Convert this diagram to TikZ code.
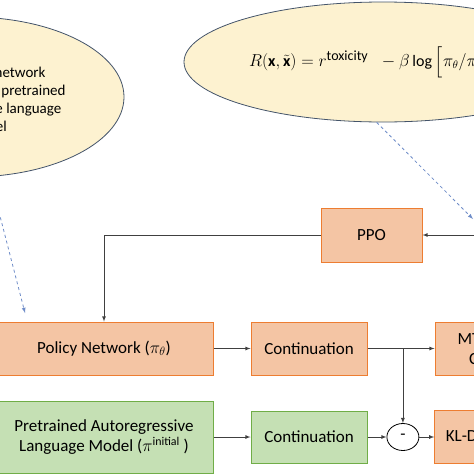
\documentclass[tikz,border=0pt]{standalone}
\usepackage{amsmath}
\usepackage{fontspec}
\setmainfont{Carlito}
\usepackage{tikz}
\usetikzlibrary{shapes, arrows, positioning, fit}
\definecolor{boxfill}{RGB}{244,197,164}
\definecolor{boxline}{RGB}{237,125,49}
\definecolor{lmfill}{RGB}{197,224,180}
\definecolor{lmline}{RGB}{112,173,71}
\definecolor{bubblefill}{RGB}{253,242,208}
\definecolor{bubbleline}{RGB}{68,84,106}
\definecolor{flowline}{RGB}{64,64,64}
\definecolor{hintline}{RGB}{110,140,200}
\newcommand{\supword}[1]{\text{\fontsize{14}{14}\selectfont #1}}

\begin{document}
\begin{tikzpicture}[x=1pt, y=-1pt,
    box/.style={draw=boxline, fill=boxfill, rectangle, minimum height=53pt, line width=1pt, font=\fontsize{17}{20}\selectfont},
    lmbox/.style={box, draw=lmline, fill=lmfill},
    bubble/.style={draw=bubbleline, fill=bubblefill, ellipse, line width=0.8pt},
    arrow/.style={->, >=latex, line width=0.8pt, flowline},
    hint/.style={->, >=latex, dashed, line width=0.8pt, hintline}
]
\useasboundingbox (0,0) rectangle (474,474);
\clip (0,0) rectangle (474,474);
\node[bubble, minimum width=308pt, minimum height=160pt] (netnote) at (-30,97) {};
\node[align=center, font=\fontsize{15}{18}\selectfont] (nettext) at (-12.5,99) {The policy network\\initialized with pretrained\\autoregressive language\\model};
\node[bubble, minimum width=398pt, minimum height=120pt, font=\fontsize{16}{20}\selectfont] (rewardnote) at (383,62) {$R(\mathbf{x},\tilde{\mathbf{x}}) = r^{\supword{toxicity}}\;\;-\beta\log\left[\pi_\theta/\pi^{\supword{initial}}\right]$};
\node[box, minimum width=101pt, minimum height=54pt] (ppo) at (371.5,235) {PPO};
\node[box, minimum width=218pt] (policy) at (104,348.5) {Policy Network ($\pi_\theta$)};
\node[box, minimum width=116pt, right=37pt of policy] (contpol) {Continuation};
\node[box, minimum width=130pt, right=67pt of contpol, align=center] (toxclf) {MTL Toxicity\\Classifier};
\node[lmbox, minimum width=218pt, minimum height=72pt, align=center, below=25pt of policy] (initlm) {Pretrained Autoregressive\\Language Model ($\pi^{\text{initial}}$ )};
\node[lmbox, minimum width=116pt, minimum height=52pt, right=37pt of initlm] (contlm) {Continuation};
\node[draw=black, fill=white, ellipse, minimum width=32pt, minimum height=27pt, inner sep=0pt, line width=0.8pt, font=\fontsize{17}{20}\selectfont, right=19pt of contlm] (diff) {-};
\node[box, inner xsep=11pt, right=15pt of diff] (kldiv) {KL-Divergence};
\coordinate (ppoin) at (490,235);
\coordinate (nettip) at (25,313);
\coordinate (rewardtip) at (473,219);
\draw[arrow] (ppoin) -- (ppo);
\draw[arrow] (ppo.west) -| (policy.north);
\draw[arrow] (policy) -- (contpol);
\draw[arrow] (contpol) -- (toxclf);
\draw[arrow] (contpol.east -| diff) -- (diff);
\draw[arrow] (initlm) -- (contlm);
\draw[arrow] (contlm) -- (diff);
\draw[arrow] (diff) -- (kldiv);
\draw[hint] (netnote.-76) -- (nettip);
\draw[hint] (rewardnote.-96) -- (rewardtip);
\end{tikzpicture}
\end{document}
